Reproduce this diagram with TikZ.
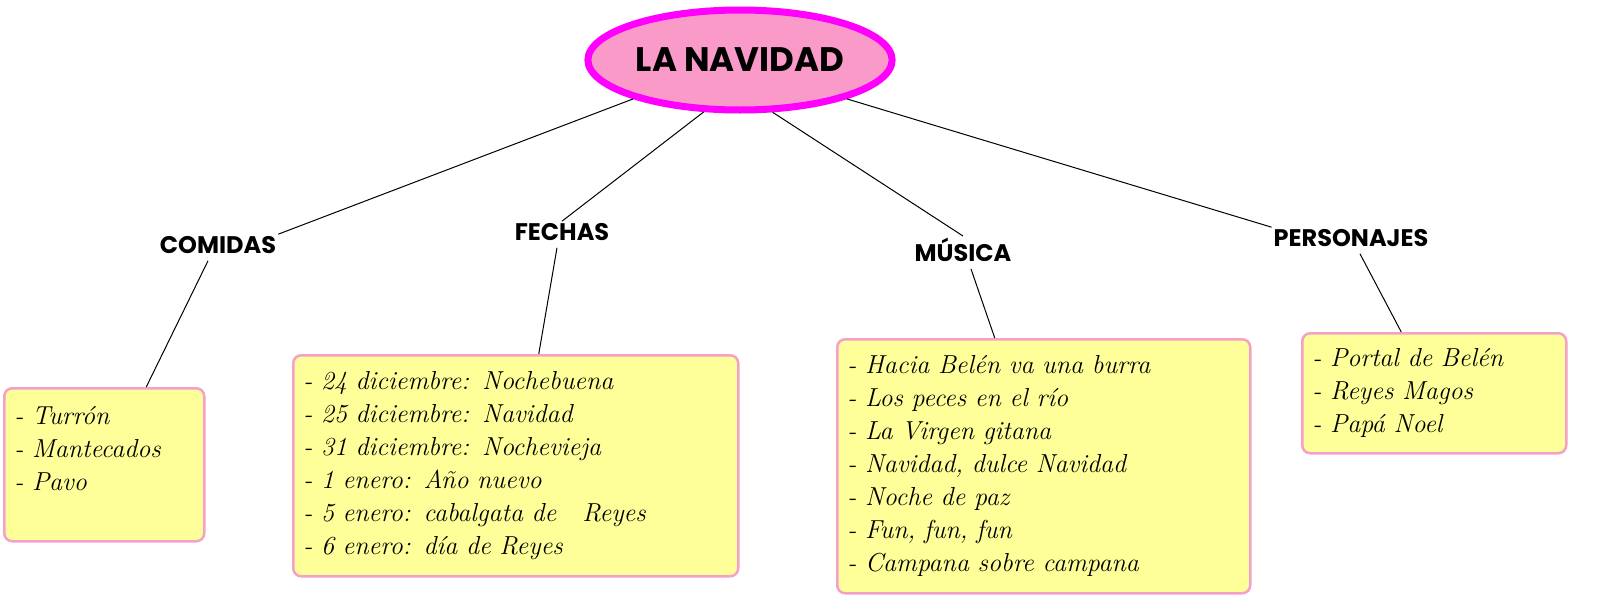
\documentclass[tikz,border=0pt]{standalone}
\usepackage{fontspec}
\setmainfont{Latin Modern Roman}
\newfontfamily\headfont{Poppins}
\usetikzlibrary{shapes.geometric}
\definecolor{ypale}{HTML}{FFFF99}
\definecolor{pborder}{HTML}{F4A0C8}
\definecolor{pinkfill}{HTML}{F99AC8}
\definecolor{magen}{HTML}{FF00FF}
\begin{document}
\begin{tikzpicture}[x=1pt,y=-1pt,
  head/.style={font=\headfont\fontsize{24}{26}\selectfont\bfseries, inner sep=2pt},
  listbox/.style={draw=pborder, line width=2.5pt, fill=ypale, rounded corners=8pt, anchor=north west, align=left, inner xsep=10pt, inner ysep=6pt, font=\itshape\fontsize{26}{33}\selectfont},
  conn/.style={line width=1pt}]
\node[ellipse, draw=magen, line width=7pt, fill=pinkfill, minimum width=286pt, minimum height=100pt, font=\headfont\fontsize{34}{36}\selectfont\bfseries] (title) at (740,60) {LA NAVIDAD};
\node[head] (com) at (218,245) {COMIDAS};
\node[head] (fec) at (562,232) {FECHAS};
\node[head] (mus) at (963,250) {MÚSICA};
\node[head] (per) at (1351,238) {PERSONAJES};
\node[listbox, text width=180pt, minimum height=153pt] (b1) at (3,387) {- Turrón\\- Mantecados\\- Pavo\\\mbox{}};
\node[listbox, text width=425pt, minimum height=221pt] (b2) at (292,354) {- 24 diciembre: Nochebuena\\- 25 diciembre: Navidad\\- 31 diciembre: Nochevieja\\- 1 enero: Año nuevo\\- 5 enero: cabalgata de \ \ Reyes\\- 6 enero: día de Reyes};
\node[listbox, text width=393pt, minimum height=254pt] (b3) at (836,338) {- Hacia Belén va una burra\\- Los peces en el río\\- La Virgen gitana\\- Navidad, dulce Navidad\\- Noche de paz\\- Fun, fun, fun\\- Campana sobre campana};
\node[listbox, text width=244pt, minimum height=120pt] (b4) at (1301,332) {- Portal de Belén\\- Reyes Magos\\- Papá Noel};
\draw[conn] (title.200) -- (com.north east);
\draw[conn] (title.235) -- (fec.north);
\draw[conn] (title.302) -- (mus.north);
\draw[conn] (title.-20) -- (per.north west);
\draw[conn] ([xshift=-10pt,yshift=-5pt]com.south) -- ([xshift=42pt]b1.north);
\draw[conn] ([xshift=-5pt,yshift=-5pt]fec.south) -- ([xshift=23pt]b2.north);
\draw[conn] ([xshift=8pt,yshift=-5pt]mus.south) -- ([xshift=-49pt]b3.north);
\draw[conn] ([xshift=9pt,yshift=-5pt]per.south) -- ([xshift=-33pt]b4.north);
\pgfresetboundingbox
\path (0,0) rectangle (1600,608);
\end{tikzpicture}
\end{document}
